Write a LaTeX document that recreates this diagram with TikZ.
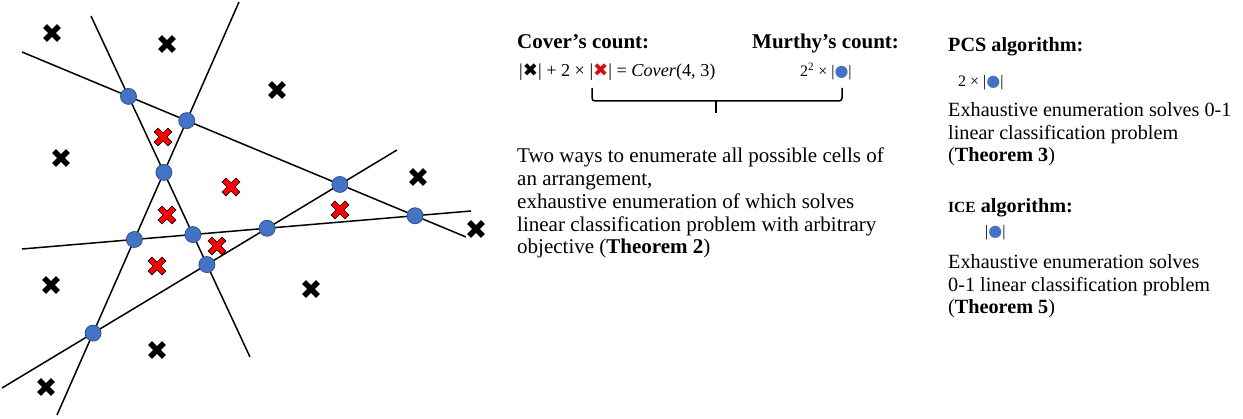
\documentclass[tikz,border=0pt]{standalone}
\usepackage{fontspec}
\setmainfont{Liberation Serif}
\newfontfamily\dejavu{DejaVu Sans}
\definecolor{dotblue}{HTML}{4472C4}
\definecolor{dotedge}{HTML}{2F528F}
\definecolor{xred}{HTML}{FF0000}
\definecolor{txred}{HTML}{D01010}
\tikzset{
  hline/.style={line width=1.5pt, black},
  vdot/.style={circle, fill=dotblue, draw=dotedge, line width=0.8pt, minimum size=16pt, inner sep=0pt},
  xmark/.pic={\path[pic actions, rotate=45]
     (2.8,2.8) -- (2.8,9.8) -- (-2.8,9.8) -- (-2.8,2.8) -- (-9.8,2.8) -- (-9.8,-2.8)
     -- (-2.8,-2.8) -- (-2.8,-9.8) -- (2.8,-9.8) -- (2.8,-2.8) -- (9.8,-2.8) -- (9.8,2.8) -- cycle;},
  blackx/.style={fill=black},
  redx/.style={fill=xred, draw=black, line width=0.6pt},
  txt/.style={inner sep=0pt, anchor=base west, font=\fontsize{21}{22.7}\selectfont},
  txtr/.style={inner sep=0pt, anchor=base west, font=\fontsize{20.2}{22.7}\selectfont},
  blk/.style={inner sep=0pt, anchor=north west, align=left, font=\fontsize{21}{22.7}\selectfont},
  blkr/.style={inner sep=0pt, anchor=north west, align=left, font=\fontsize{20.2}{22.8}\selectfont},
  mth/.style={inner sep=0pt, anchor=base west, font=\fontsize{16}{18}\selectfont},
  mthb/.style={inner sep=0pt, anchor=base west, font=\fontsize{18.2}{20}\selectfont},
}
\newcommand{\bx}{{\dejavu ✖}}
\newcommand{\rx}{{\dejavu\color{txred}✖}}
\newcommand{\bd}{{\dejavu\color{dotblue}●}}
\begin{document}
\begin{tikzpicture}[x=1pt,y=-1pt]
\useasboundingbox (0,0) rectangle (1243,419);
% lines
\coordinate (a1) at (22,52);  \coordinate (a2) at (466,237);
\coordinate (b1) at (91,16);  \coordinate (b2) at (250,357);
\coordinate (c1) at (239,2);  \coordinate (c2) at (57,415);
\coordinate (d1) at (22,249); \coordinate (d2) at (471,211);
\coordinate (e1) at (2,388);  \coordinate (e2) at (397,150);
\draw[hline] (a1) -- (a2);
\draw[hline] (b1) -- (b2);
\draw[hline] (c1) -- (c2);
\draw[hline] (d1) -- (d2);
\draw[hline] (e1) -- (e2);
% intersection dots
\node[vdot] (ab) at (intersection of a1--a2 and b1--b2) {};
\node[vdot] (ac) at (intersection of a1--a2 and c1--c2) {};
\node[vdot] (ad) at (intersection of a1--a2 and d1--d2) {};
\node[vdot] (ae) at (intersection of a1--a2 and e1--e2) {};
\node[vdot] (bc) at (intersection of b1--b2 and c1--c2) {};
\node[vdot] (bd) at (intersection of b1--b2 and d1--d2) {};
\node[vdot] (be) at (intersection of b1--b2 and e1--e2) {};
\node[vdot] (cd) at (intersection of c1--c2 and d1--d2) {};
\node[vdot] (ce) at (intersection of c1--c2 and e1--e2) {};
\node[vdot] (de) at (intersection of d1--d2 and e1--e2) {};
% black crosses
\pic[blackx] (k1) at (52,33) {xmark};
\pic[blackx] (k2) at (167,44) {xmark};
\pic[blackx] (k3) at (277,90) {xmark};
\pic[blackx] (k4) at (61,158) {xmark};
\pic[blackx] (k5) at (418,177) {xmark};
\pic[blackx] (k6) at (476,229) {xmark};
\pic[blackx] (k7) at (51,285) {xmark};
\pic[blackx] (k8) at (311,289) {xmark};
\pic[blackx] (k9) at (157,350) {xmark};
\pic[blackx] (k10) at (46,387) {xmark};
% red crosses
\pic[redx] (r1) at (163,137) {xmark};
\pic[redx] (r2) at (231,187) {xmark};
\pic[redx] (r3) at (167,215) {xmark};
\pic[redx] (r4) at (217,246) {xmark};
\pic[redx] (r5) at (157,266) {xmark};
\pic[redx] (r6) at (340,210) {xmark};
% middle texts
\node[txt] (cov) at (517,49) {\textbf{Cover’s count:}};
\node[mthb] (covf) at (519,77) {|\bx| + 2 × |\rx| = \textit{Cover}(4, 3)};
\node[txt] (mur) at (752,49) {\textbf{Murthy’s count:}};
\node[mth] (murf) at (800,77) {2\textsuperscript{2} × |\bd|};
\coordinate (brL) at (592,88); \coordinate (brR) at (842,88);
\coordinate (brM) at (716,101); \coordinate (brT) at (716,113);
\draw[line width=1.5pt, rounded corners=3pt] (brL) -- (brL |- brM) -- (brR |- brM) -- (brR);
\draw[line width=1.5pt] (brM) -- (brT);
\node[blk] (two) at (517,148) {Two ways to enumerate all possible cells of\\an arrangement,\\exhaustive enumeration of which solves\\linear classification problem with arbitrary\\objective (\textbf{Theorem 2})};
% right column
\node[txtr] (pcs) at (948,52) {\textbf{PCS algorithm:}};
\node[mth] (pcsf) at (958,87) {2 × |\bd|};
\node[blkr] (pcst) at (948,102) {Exhaustive enumeration solves 0-1\\linear classification problem\\(\textbf{Theorem 3})};
\node[txtr] (ice) at (948,213) {\textbf{{\fontsize{15.5}{18}\selectfont ICE} algorithm:}};
\node[mth] (icef) at (985,237) {|\bd|};
\node[blkr] (icet) at (948,254) {Exhaustive enumeration solves\\0-1 linear classification problem\\(\textbf{Theorem 5})};
\end{tikzpicture}
\end{document}
